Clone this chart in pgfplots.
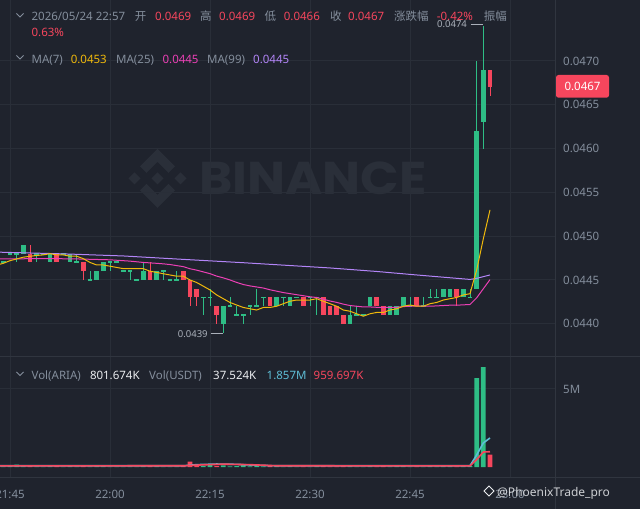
\documentclass[border=0pt]{standalone}
\usepackage{pgfplots}
\pgfplotsset{compat=1.18}
\usepackage{pgfplotstable}
\usepackage{graphicx}
\usepackage{fontspec}
\setmainfont{Noto Sans}
\newfontfamily\cjk{Noto Sans CJK SC}
\newfontfamily\pop{Poppins}
\definecolor{bg}{RGB}{31,35,45}
\definecolor{gridc}{RGB}{41,46,56}
\definecolor{sep}{RGB}{48,53,63}
\definecolor{upc}{RGB}{46,189,133}
\definecolor{dnc}{RGB}{246,70,93}
\definecolor{txt}{RGB}{132,142,156}
\definecolor{wht}{RGB}{234,236,239}
\definecolor{lbl}{RGB}{170,176,186}
\definecolor{maA}{RGB}{240,185,11}
\definecolor{maB}{RGB}{235,64,181}
\definecolor{maC}{RGB}{179,133,248}
\definecolor{vcy}{RGB}{94,190,214}
\definecolor{wmk}{RGB}{42,47,57}

\pgfplotstableread{
m o h l c
-1 0.0447 0.0447 0.0447 0.0447
0 0.0448 0.0448 0.0448 0.0448
1 0.0448 0.0448 0.0447 0.0448
2 0.0448 0.0449 0.0448 0.0449
4 0.0448 0.0448 0.0447 0.0448
5 0.0448 0.0448 0.0448 0.0448
6 0.0447 0.0448 0.0447 0.0448
8 0.0448 0.0448 0.0448 0.0448
9 0.0447 0.0448 0.0447 0.0448
10 0.0447 0.0448 0.0447 0.0447
12 0.0445 0.0446 0.0445 0.0445
13 0.0445 0.0446 0.0445 0.0446
14 0.0446 0.0447 0.0446 0.0447
15 0.0447 0.0447 0.0446 0.0447
16 0.0447 0.0447 0.0447 0.0447
17 0.0446 0.0446 0.0446 0.0446
18 0.0446 0.0446 0.0445 0.0446
19 0.0445 0.0445 0.0445 0.0445
20 0.0445 0.0447 0.0445 0.0446
22 0.0445 0.0446 0.0445 0.0446
23 0.0446 0.0446 0.0445 0.0446
24 0.0445 0.0445 0.0445 0.0445
25 0.0445 0.0446 0.0445 0.0445
29 0.0443 0.0443 0.0441 0.0443
30 0.0443 0.0444 0.0442 0.0443
32 0.0440 0.0442 0.0439 0.0442
33 0.0442 0.0443 0.0442 0.0442
34 0.0441 0.0442 0.0441 0.0441
35 0.0441 0.0441 0.0440 0.0441
36 0.0442 0.0442 0.0441 0.0442
37 0.0442 0.0444 0.0442 0.0442
38 0.0443 0.0443 0.0442 0.0443
40 0.0442 0.0443 0.0442 0.0443
41 0.0443 0.0443 0.0442 0.0443
42 0.0442 0.0443 0.0442 0.0443
43 0.0443 0.0443 0.0443 0.0443
45 0.0443 0.0443 0.0442 0.0443
46 0.0443 0.0443 0.0441 0.0443
51 0.0440 0.0442 0.0440 0.0441
52 0.0441 0.0442 0.0441 0.0441
53 0.0441 0.0441 0.0441 0.0441
54 0.0442 0.0443 0.0442 0.0443
57 0.0441 0.0442 0.0441 0.0442
58 0.0441 0.0442 0.0441 0.0442
59 0.0442 0.0443 0.0442 0.0443
60 0.0442 0.0443 0.0442 0.0442
62 0.0442 0.0443 0.0442 0.0442
63 0.0443 0.0444 0.0443 0.0443
64 0.0443 0.0444 0.0443 0.0443
65 0.0443 0.0444 0.0443 0.0444
66 0.0443 0.0444 0.0443 0.0444
68 0.0443 0.0444 0.0443 0.0444
69 0.0443 0.0444 0.0443 0.0443
70 0.0444 0.0470 0.0444 0.0462
71 0.0463 0.0474 0.0460 0.0469
}\candleup

\pgfplotstableread{
m o h l c
3 0.0448 0.0449 0.0447 0.0447
7 0.0448 0.0448 0.0447 0.0447
11 0.0447 0.0447 0.0445 0.0446
21 0.0446 0.0447 0.0445 0.0445
26 0.0446 0.0446 0.0445 0.0445
27 0.0445 0.0445 0.0442 0.0443
28 0.0444 0.0444 0.0442 0.0443
31 0.0442 0.0442 0.0440 0.0441
39 0.0443 0.0443 0.0442 0.0442
44 0.0443 0.0443 0.0442 0.0442
47 0.0443 0.0443 0.0441 0.0441
48 0.0442 0.0442 0.0441 0.0441
49 0.0442 0.0442 0.0441 0.0441
50 0.0441 0.0441 0.0440 0.0440
55 0.0443 0.0443 0.0442 0.0442
56 0.0442 0.0442 0.0441 0.0441
61 0.0443 0.0443 0.0442 0.0442
67 0.0444 0.0444 0.0442 0.0443
72 0.0469 0.0469 0.0466 0.0467
}\candledn

\pgfplotstableread{
m v
-1 0.04
0 0.06
1 0.15
2 0.08
4 0.04
5 0.03
6 0.06
8 0.03
9 0.10
10 0.04
12 0.04
13 0.06
14 0.06
15 0.03
16 0.03
17 0.03
18 0.04
19 0.03
20 0.08
22 0.05
23 0.03
24 0.03
25 0.04
29 0.06
30 0.14
32 0.10
33 0.04
34 0.05
35 0.14
36 0.04
37 0.06
38 0.04
40 0.06
41 0.03
42 0.05
43 0.03
45 0.03
46 0.12
51 0.06
52 0.03
53 0.03
54 0.05
57 0.04
58 0.05
59 0.05
60 0.03
62 0.03
63 0.12
64 0.04
65 0.05
66 0.05
68 0.05
69 0.06
70 5.7
71 6.4
}\volup

\pgfplotstableread{
m v
3 0.06
7 0.05
11 0.07
21 0.06
26 0.05
27 0.34
28 0.12
31 0.08
39 0.05
44 0.04
47 0.06
48 0.04
49 0.04
50 0.05
55 0.04
56 0.05
61 0.04
67 0.04
72 0.80
}\voldn

\tikzset{tt/.style={anchor=base west, inner sep=0pt, font=\fontsize{11.5}{13}\selectfont}}
\pgfplotsset{candle/.style={draw=none, mark=none, forget plot, error bars/.cd, y dir=both, y explicit, error mark=none,
  error bar style={draw=#1}}}

\begin{document}
\begin{tikzpicture}
\fill[bg] (0,0) rectangle (640pt,509pt);

% watermark logo and word
\begin{scope}[x=1pt, y=-1pt, yshift=509pt]
\fill[wmk] (157.5,172.5) -- (163.5,178.5) -- (157.5,184.5) -- (151.5,178.5) -- cycle;
\fill[wmk] (134.5,172.5) -- (140.5,178.5) -- (134.5,184.5) -- (128.5,178.5) -- cycle;
\fill[wmk] (180.5,172.5) -- (186.5,178.5) -- (180.5,184.5) -- (174.5,178.5) -- cycle;
\fill[wmk] (157.5,149) -- (175,166.5) -- (168.5,173) -- (157.5,162) -- (146.5,173) -- (140,166.5) -- cycle;
\fill[wmk] (157.5,208) -- (175,190.5) -- (168.5,184) -- (157.5,195) -- (146.5,184) -- (140,190.5) -- cycle;
\node[anchor=base west, inner sep=0pt, text=wmk, font=\pop\bfseries\fontsize{46}{48}\selectfont] at (199,195) {\scalebox{1.1}[1]{BINANCE}};
\end{scope}

% price panel
\begin{axis}[
  at={(0pt,153pt)}, anchor=south west, scale only axis,
  width=555pt, height=356pt,
  xmin=-1.5, xmax=81.75, ymin=0.043632, ymax=0.047696,
  axis line style={draw=none},
  xtick={0,15,30,45,60,75}, xticklabels={},
  ytick={0.044,0.0445,0.045,0.0455,0.046,0.0465,0.047},
  yticklabel pos=right, scaled y ticks=false,
  yticklabel style={/pgf/number format/fixed, /pgf/number format/fixed zerofill,
    /pgf/number format/precision=4, /pgf/number format/assume math mode=true,
    font=\fontsize{11.5}{12}\selectfont, text=txt, anchor=west, inner sep=0pt, xshift=8pt},
  major tick length=0pt,
  grid=major, major grid style={gridc, line width=1pt},
]
% wicks
\addplot[candle=upc, error bar style={line width=1pt}]
  table[x=m, y expr={(\thisrow{h}+\thisrow{l})/2}, y error expr={(\thisrow{h}-\thisrow{l})/2}] {\candleup};
\addplot[candle=dnc, error bar style={line width=1pt}]
  table[x=m, y expr={(\thisrow{h}+\thisrow{l})/2}, y error expr={(\thisrow{h}-\thisrow{l})/2}] {\candledn};
% bodies
\addplot[candle=upc, error bar style={line width=4.7pt}]
  table[x=m, y expr={(\thisrow{o}+\thisrow{c})/2}, y error expr={max(abs(\thisrow{c}-\thisrow{o})/2,0.000011)}] {\candleup};
\addplot[candle=dnc, error bar style={line width=4.7pt}]
  table[x=m, y expr={(\thisrow{o}+\thisrow{c})/2}, y error expr={max(abs(\thisrow{c}-\thisrow{o})/2,0.000011)}] {\candledn};
% MA(99)
\addplot[maC, line width=1pt, mark=none] coordinates {
(-2,0.044818) (8,0.044798) (17,0.044774) (26,0.044735) (35,0.044697) (48,0.044637)
(55,0.044597) (61,0.044557) (69,0.044506) (70,0.044518) (71,0.044538) (72,0.044557)};
% MA(25)
\addplot[maB, line width=1pt, mark=none] coordinates {
(-2,0.04474) (0,0.04474) (5,0.044745) (10,0.04474) (15,0.04473) (18,0.044715) (20,0.0447) (22,0.04469)
(23,0.044684) (24,0.044676) (25,0.044664) (26,0.044652) (27,0.044628) (28,0.044612) (29,0.044592)
(30,0.044572) (31,0.044544) (32,0.044524) (33,0.0445) (34,0.044472) (35,0.044448) (36,0.044432)
(37,0.04442) (38,0.044408) (39,0.044388) (40,0.044372) (41,0.044356) (42,0.044344) (43,0.044332)
(44,0.04432) (45,0.044308) (46,0.0443) (47,0.04428) (48,0.04426) (49,0.044244) (50,0.044224)
(51,0.044208) (52,0.0442) (53,0.044192) (54,0.044192) (55,0.044188) (56,0.044188) (57,0.044188)
(58,0.044188) (59,0.044196) (60,0.0442) (61,0.0442) (62,0.0442) (63,0.0442) (64,0.044204)
(65,0.044208) (66,0.044212) (67,0.044212) (68,0.044216) (69,0.04422) (70,0.044296) (71,0.0444)
(72,0.044504)};
% MA(7)
\addplot[maA, line width=1pt, mark=none] coordinates {
(-2,0.04467) (-1,0.04469) (0,0.04472) (1,0.04474) (2,0.04476) (3,0.04477) (4,0.04478)
(5,0.044786) (6,0.0448) (7,0.044786) (8,0.044786) (9,0.044771) (10,0.044771) (11,0.044743)
(12,0.0447) (13,0.044671) (14,0.044671) (15,0.044657) (16,0.044643) (17,0.044629) (18,0.044629)
(19,0.044629) (20,0.044629) (21,0.0446) (22,0.044586) (23,0.044571) (24,0.044557) (25,0.044543)
(26,0.044543) (27,0.0445) (28,0.044471) (29,0.044429) (30,0.044386) (31,0.044329) (32,0.044286)
(33,0.044243) (34,0.044214) (35,0.044186) (36,0.044171) (37,0.044157) (38,0.044186) (39,0.044186)
(40,0.0442) (41,0.044229) (42,0.044257) (43,0.044271) (44,0.044271) (45,0.044271) (46,0.044286)
(47,0.044257) (48,0.044229) (49,0.0442) (50,0.044157) (51,0.044143) (52,0.044114) (53,0.044086)
(54,0.044114) (55,0.044129) (56,0.044129) (57,0.044157) (58,0.044171) (59,0.0442) (60,0.044214)
(61,0.0442) (62,0.0442) (63,0.044229) (64,0.044243) (65,0.044271) (66,0.044286) (67,0.0443)
(68,0.044329) (69,0.044343) (70,0.044614) (71,0.044971) (72,0.0453)};
\end{axis}

% volume panel
\begin{axis}[
  at={(0pt,32pt)}, anchor=south west, scale only axis,
  width=555pt, height=121pt,
  xmin=-1.5, xmax=81.75, ymin=-0.641, ymax=7.115,
  axis line style={draw=none},
  xtick={0,15,30,45,60,75},
  xticklabels={21:45,22:00,22:15,22:30,22:45,23:00},
  xticklabel style={font=\fontsize{11.5}{12}\selectfont, text=txt, anchor=base, yshift=-21pt},
  ytick={5}, yticklabels={5M},
  yticklabel pos=right,
  yticklabel style={font=\fontsize{11.5}{12}\selectfont, text=txt, anchor=west, inner sep=0pt, xshift=8pt},
  major tick length=0pt,
  grid=major, major grid style={gridc, line width=1pt},
]
\addplot[ybar, bar width=4.7pt, bar shift=0pt, fill=upc, draw=none] table[x=m, y=v] {\volup};
\addplot[ybar, bar width=4.7pt, bar shift=0pt, fill=dnc, draw=none] table[x=m, y=v] {\voldn};
\addplot[vcy, line width=1.6pt, mark=none] coordinates {
(-2,0.08) (26,0.08) (28,0.15) (31,0.19) (34,0.17) (37,0.11) (40,0.08) (69,0.08)
(70,0.77) (71,1.54) (72,1.86)};
\addplot[dnc, line width=1.6pt, mark=none] coordinates {
(-2,0.07) (26,0.08) (29,0.14) (32,0.18) (36,0.15) (40,0.08) (69,0.07)
(70,0.48) (71,0.96) (72,0.98)};
\end{axis}

\begin{scope}[x=1pt, y=-1pt, yshift=509pt]
% separators
\draw[sep, line width=1pt] (0,356.5) -- (640,356.5);
\draw[sep, line width=1pt] (0,477) -- (640,477);
\draw[sep, line width=1pt] (555.5,0) -- (555.5,509);
% header line 1
\draw[txt, line width=1pt] (16.5,13.5) -- (20,17) -- (23.5,13.5);
\node[tt, text=txt] at (31.4,20.2) {2026/05/24 22:57};
\node[tt, text=txt] at (134.7,20.2) {\cjk 开};
\node[tt, text=dnc] at (155,20.2) {0.0469};
\node[tt, text=txt] at (200,20.2) {\cjk 高};
\node[tt, text=dnc] at (219,20.2) {0.0469};
\node[tt, text=txt] at (264.5,20.2) {\cjk 低};
\node[tt, text=dnc] at (283.7,20.2) {0.0466};
\node[tt, text=txt] at (330,20.2) {\cjk 收};
\node[tt, text=dnc] at (348,20.2) {0.0467};
\node[tt, text=txt] at (394,20.2) {\cjk 涨跌幅};
\node[tt, text=dnc] at (436.7,20.2) {-0.42\%};
\node[tt, text=txt] at (483.7,20.2) {\cjk 振幅};
\node[tt, text=dnc] at (31.4,36.2) {0.63\%};
% header line 3
\draw[txt, line width=1pt] (16.5,55.5) -- (20,59) -- (23.5,55.5);
\node[tt, text=txt] at (31.4,63.5) {MA(7)};
\node[tt, text=maA] at (70.6,63.5) {0.0453};
\node[tt, text=txt] at (116,63.5) {MA(25)};
\node[tt, text=maB] at (162.4,63.5) {0.0445};
\node[tt, text=txt] at (207,63.5) {MA(99)};
\node[tt, text=maC] at (253,63.5) {0.0445};
% high / low annotations
\node[anchor=base west, inner sep=0pt, text=lbl, font=\fontsize{9.5}{11}\selectfont] at (437,27.8) {0.0474};
\draw[lbl, line width=1pt] (470.5,24.3) -- (482.5,24.3);
\node[anchor=base west, inner sep=0pt, text=lbl, font=\fontsize{9.5}{11}\selectfont] at (177.7,337.5) {0.0439};
\draw[lbl, line width=1pt] (210.7,334) -- (222.7,334);
% price tag
\fill[dnc, rounded corners=2.5pt] (556,75) rectangle (609,97.7);
\node[anchor=center, inner sep=0pt, text=white, font=\fontsize{11.5}{12}\selectfont] at (582.5,86.5) {0.0467};
% volume header
\draw[txt, line width=1pt] (16.5,372) -- (20,375.5) -- (23.5,372);
\node[tt, text=txt] at (31.4,379.5) {Vol(ARIA)};
\node[tt, text=wht] at (89.8,379.5) {801.674K};
\node[tt, text=txt] at (149,379.5) {Vol(USDT)};
\node[tt, text=wht] at (213,379.5) {37.524K};
\node[tt, text=vcy] at (266.5,379.5) {1.857M};
\node[tt, text=dnc] at (313.5,379.5) {959.697K};
% source watermark
\draw[wht, line width=1pt] (489,486) -- (494,491) -- (489,496) -- (484,491) -- cycle;
\node[anchor=base west, inner sep=0pt, text=wht, opacity=0.85, font=\fontsize{12}{13}\selectfont] at (497,496) {@PhoenixTrade\_pro};
\end{scope}

\pgfresetboundingbox
\useasboundingbox (0,0) rectangle (640pt,509pt);
\end{tikzpicture}
\end{document}
